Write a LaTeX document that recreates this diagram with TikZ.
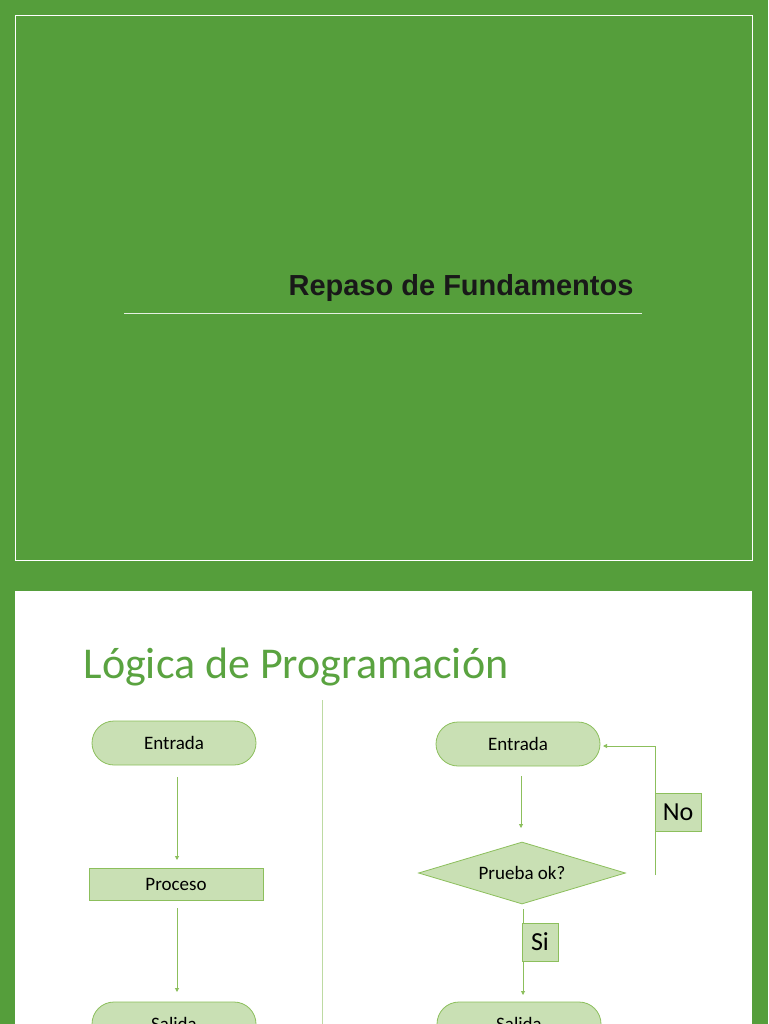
\documentclass[tikz,border=0pt]{standalone}
\usepackage{fontspec}
\setmainfont{Carlito}
\usetikzlibrary{shapes.geometric,arrows.meta}
\definecolor{bg}{HTML}{559E3B}
\definecolor{lf}{HTML}{C9E0B4}
\definecolor{ln}{HTML}{8CBF5C}
\definecolor{tg}{HTML}{5AA340}
\tikzset{
  term/.style={draw=ln,fill=lf,rounded corners=22pt,minimum width=164pt,minimum height=44pt,font=\fontsize{19}{22}\selectfont,line width=0.8pt},
  proc/.style={draw=ln,fill=lf,minimum width=174pt,minimum height=32pt,font=\fontsize{19}{22}\selectfont,line width=0.8pt},
  dec/.style={draw=ln,fill=lf,diamond,aspect=3.3,minimum width=207pt,minimum height=62pt,inner sep=0pt,font=\fontsize{19}{22}\selectfont,line width=0.8pt},
  lbl/.style={draw=ln,fill=lf,font=\fontsize{26}{30}\selectfont,inner sep=0pt,line width=0.8pt},
  conn/.style={draw=ln,line width=0.9pt,-{Triangle[length=4pt,width=4pt]}}
}
\begin{document}
\begin{tikzpicture}[x=1pt,y=-1pt]
\useasboundingbox (0,0) rectangle (768,1024);
\clip (0,0) rectangle (768,1024);
\fill[bg] (0,0) rectangle (768,1024);
\draw[white,line width=0.8pt] (15,15) rectangle (752,560);
\node[font=\fontsize{29}{34}\selectfont,text=black!90] (t1) at (461,288) {\fontspec{Liberation Sans}\bfseries Repaso de Fundamentos};
\draw[white!85!bg,line width=0.8pt] (124,313) -- (642,313);
\fill[white] (15,591) rectangle (752,1030);
\node[anchor=west,text=tg,font=\fontsize{44}{50}\selectfont] (t2) at (80,667) {Lógica de Programación};
\draw[lf!80!ln,line width=1pt] (322,700) -- (322,1030);
% left
\node[term] (e1) at (174,743) {Entrada};
\node[proc] (p1) at (176,884) {Proceso};
\node[term] (s1) at (174,1024) {Salida};
\coordinate (a1) at (177,777);
\coordinate (a2) at (177,908);
\draw[conn] (a1) -- (177,860);
\draw[conn] (a2) -- (177,992);
% right
\node[term] (e2) at (518,744) {Entrada};
\node[dec] (d) at (522,873) {Prueba ok?};
\node[term] (s2) at (519,1024) {Salida};
\coordinate (b1) at (521,776);
\draw[conn] (b1) -- (521,828);
\coordinate (b2) at (523,909);
\draw[conn] (b2) -- (523,995);
\node[lbl,minimum width=36pt,minimum height=38pt] (si) at (540,942) {Si};
\coordinate (c1) at (655,875);
\draw[conn] (c1) -- (655,746) -- (603,746);
\node[lbl,minimum width=46pt,minimum height=38pt] (no) at (678,812) {No};
\end{tikzpicture}
\end{document}
